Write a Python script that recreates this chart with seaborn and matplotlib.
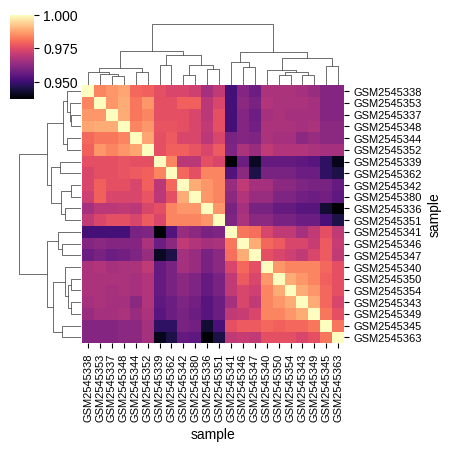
import numpy as np
import pandas as pd
import seaborn as sns
import matplotlib.pyplot as plt
from scipy.cluster import hierarchy
from scipy.spatial.distance import pdist

samples = ["GSM2545338", "GSM2545353", "GSM2545337", "GSM2545348", "GSM2545344",
           "GSM2545352", "GSM2545339", "GSM2545362", "GSM2545342", "GSM2545380",
           "GSM2545336", "GSM2545351", "GSM2545341", "GSM2545346", "GSM2545347",
           "GSM2545340", "GSM2545350", "GSM2545354", "GSM2545343", "GSM2545349",
           "GSM2545345", "GSM2545363"]

# upper triangle, one row per sample (from the diagonal to the right)
r338 = [1, .984, .986, .988, .980, .979, .976, .974, .974, .972, .966, .970, .951, .961, .957, .967, .967, .967, .966, .964, .961, .961]
r353 = [1, .986, .989, .982, .986, .976, .976, .979, .979, .969, .974, .951, .962, .959, .968, .967, .967, .967, .966, .961, .961]
r337 = [1, .989, .982, .984, .976, .976, .976, .974, .969, .976, .951, .961, .957, .966, .967, .966, .966, .966, .961, .961]
r348 = [1, .984, .986, .977, .977, .976, .974, .970, .976, .951, .961, .958, .967, .967, .967, .966, .967, .962, .962]
r344 = [1, .988, .976, .978, .974, .974, .969, .974, .959, .961, .960, .967, .966, .966, .962, .964, .962, .962]
r352 = [1, .976, .979, .979, .977, .974, .978, .960, .967, .964, .970, .968, .968, .968, .967, .966, .966]
r339 = [1, .984, .969, .969, .976, .974, .937, .957, .941, .956, .956, .956, .955, .954, .948, .940]
r362 = [1, .980, .976, .984, .984, .953, .962, .945, .959, .959, .959, .957, .957, .948, .945]
r342 = [1, .989, .986, .984, .964, .970, .966, .966, .962, .962, .960, .959, .959, .956]
r380 = [1, .986, .984, .962, .968, .964, .964, .960, .960, .958, .957, .958, .955]
r336 = [1, .986, .959, .966, .959, .959, .956, .956, .954, .954, .943, .937]
r351 = [1, .960, .967, .962, .962, .959, .959, .957, .957, .952, .945]
r341 = [1, .982, .981, .974, .970, .970, .966, .970, .976, .970]
r346 = [1, .989, .980, .978, .974, .974, .971, .978, .971]
r347 = [1, .976, .974, .972, .970, .974, .978, .970]
r340 = [1, .986, .984, .984, .984, .980, .976]
r350 = [1, .989, .986, .984, .979, .976]
r354 = [1, .989, .986, .980, .976]
r343 = [1, .989, .980, .974]
r349 = [1, .982, .976]
r345 = [1, .982]
r363 = [1]

rows = [r338, r353, r337, r348, r344, r352, r339, r362, r342, r380, r336,
        r351, r341, r346, r347, r340, r350, r354, r343, r349, r345, r363]

n = len(samples)
m = np.zeros((n, n))
for i, r in enumerate(rows):
    m[i, i:] = r
    m[i:, i] = r

df = pd.DataFrame(m, index=samples, columns=samples)
df.index.name = "sample"
df.columns.name = "sample"

# linkage on the data, children flipped so leaves keep the listed order
link = hierarchy.linkage(pdist(m), method="average")
first = list(range(n))
for k in range(len(link)):
    a, b = int(link[k, 0]), int(link[k, 1])
    if first[b] < first[a]:
        link[k, 0], link[k, 1] = b, a
    first.append(min(first[a], first[b]))

plt.rcParams["font.family"] = ["Liberation Sans", "DejaVu Sans"]
g = sns.clustermap(df, cmap="magma", figsize=(4.74, 4.68),
                   row_linkage=link, col_linkage=link,
                   xticklabels=1, yticklabels=1,
                   cbar_kws={"ticks": [0.95, 0.975, 1.0]})
g.cax.set_yticklabels(["0.950", "0.975", "1.000"])
g.ax_heatmap.tick_params(labelsize=8)
g.savefig("out.png", dpi=100)
